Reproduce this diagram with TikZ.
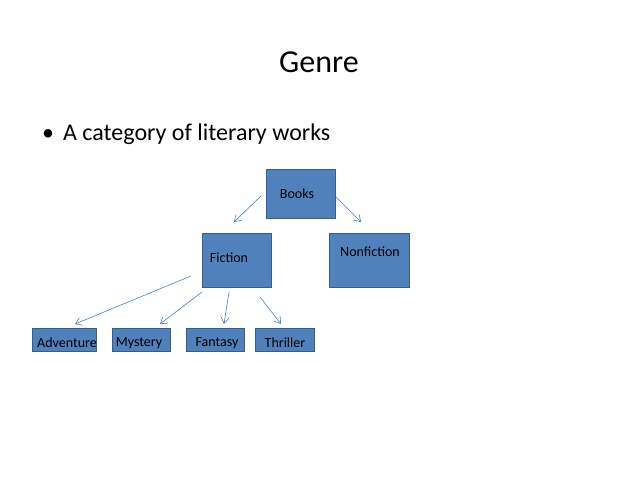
\documentclass[tikz,border=0pt]{standalone}
\usepackage{fontspec}
\setmainfont{Carlito}
\usetikzlibrary{arrows.meta}
\definecolor{boxfill}{HTML}{4F81BD}
\definecolor{boxline}{HTML}{385D8A}
\definecolor{arr}{HTML}{4A7EBB}
\begin{document}
\begin{tikzpicture}[x=1pt,y=-1pt,
  bx/.style={draw=boxline,fill=boxfill,line width=0.8pt},
  lbl/.style={font=\fontsize{14}{16}\selectfont,text=black,inner sep=0pt},
  ar/.style={draw=arr,line width=0.6pt,-{Straight Barb[length=6pt,width=8pt]}}]
\useasboundingbox (0,0) rectangle (638,478);
\node[font=\fontsize{32}{36}\selectfont] (title) at (319,62) {Genre};
\node[anchor=base west,font=\fontsize{24}{28}\selectfont,inner sep=0pt] (bul) at (42,141) {•\hspace{9pt}A category of literary works};
\draw[bx] (266,169) rectangle (335,218); \node[lbl] (books) at (297,194) {Books};
\draw[bx] (202,233) rectangle (271,287); \node[lbl] (fiction) at (229,258) {Fiction};
\draw[bx] (329,233) rectangle (409,287); \node[lbl] (nonfiction) at (370,252) {Nonfiction};
\draw[bx] (32,328) rectangle (96,351); \node[lbl] (adv) at (67,343) {Adventure};
\draw[bx] (112,328) rectangle (170,351); \node[lbl] (mys) at (139,343) {Mystery};
\draw[bx] (186,328) rectangle (244,351); \node[lbl] (fan) at (217,343) {Fantasy};
\draw[bx] (255,328) rectangle (314,351); \node[lbl] (thr) at (285,343) {Thriller};
\coordinate (a1s) at (261,196); \coordinate (a1e) at (234,222);
\coordinate (a2s) at (336,197); \coordinate (a2e) at (361,222);
\coordinate (a3s) at (191,276); \coordinate (a3e) at (75,324);
\coordinate (a4s) at (202,292); \coordinate (a4e) at (160,324);
\coordinate (a5s) at (229,292); \coordinate (a5e) at (224,324);
\coordinate (a6s) at (260,297); \coordinate (a6e) at (281,324);
\foreach \i in {1,...,6} \draw[ar] (a\i s) -- (a\i e);
\end{tikzpicture}
\end{document}
